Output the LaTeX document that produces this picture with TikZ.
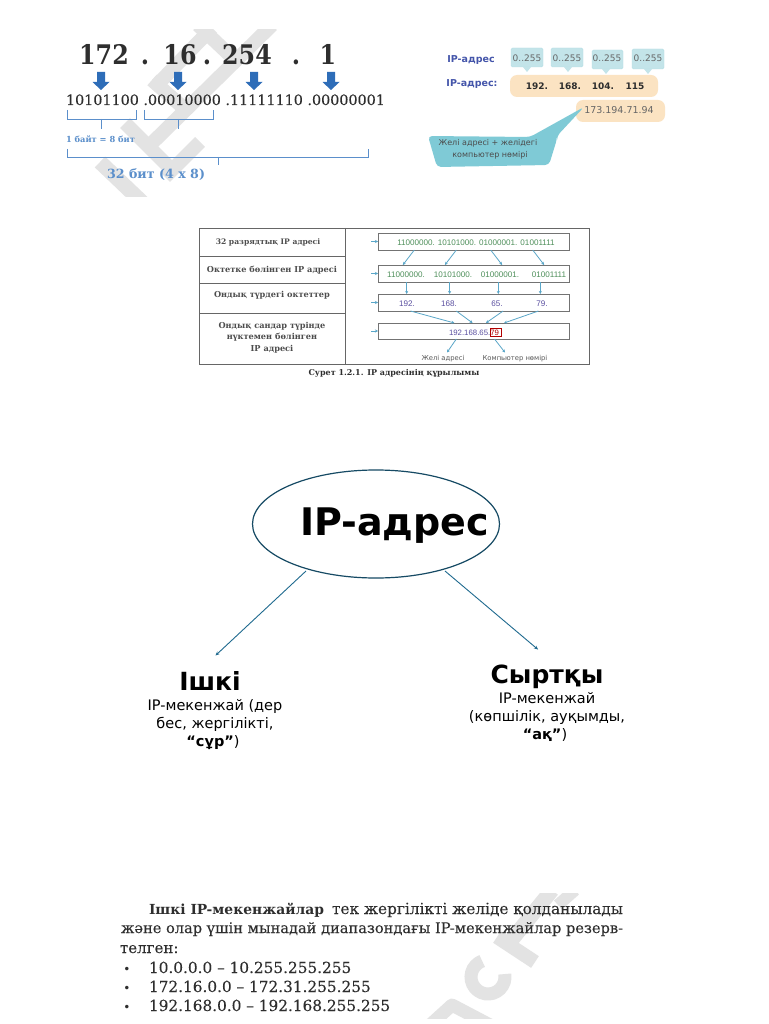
\documentclass[tikz,border=0pt]{standalone}
\usepackage{fontspec}
\usepackage{graphicx}
\usetikzlibrary{shapes.geometric,calc,arrows.meta}
\setmainfont{DejaVu Sans}
\newfontfamily\serifb{DejaVu Serif}
\newfontfamily\serifm[FakeBold=0.08]{DejaVu Serif}
\newfontfamily\libsans{Liberation Sans}
\definecolor{wm}{HTML}{E3E3E3}
\definecolor{bluearrow}{HTML}{2E6DB8}
\definecolor{brk}{HTML}{5B8FCB}
\definecolor{ink}{HTML}{2E2E2E}
\definecolor{tealb}{HTML}{C3E4E9}
\definecolor{teald}{HTML}{7FCAD6}
\definecolor{peach}{HTML}{FBE3C2}
\definecolor{ipblue}{HTML}{4455AA}
\definecolor{edge}{HTML}{1F6A8F}
\definecolor{tarr}{HTML}{5AA6C8}
\definecolor{tgreen}{HTML}{4E8F5A}
\definecolor{tpurp}{HTML}{5A4FA0}
\tikzset{
  txt/.style={inner sep=0pt,outer sep=0pt,anchor=base},
  fit/.style={inner sep=0pt,outer sep=0pt,anchor=base west},
  rowbox/.style={draw=black!55,line width=0.9pt,inner sep=0pt,outer sep=0pt,anchor=north west},
  tarrow/.style={draw=tarr,line width=0.8pt,-{Stealth[length=3pt,width=3pt]}},
  bracket/.style={draw=brk,line width=0.9pt},
  wband/.style={draw=wm,line width=14pt},
  chip/.style={fill=tealb,draw=tealb!80!teald,line width=0.4pt,rounded corners=1.5pt},
  mainedge/.style={draw=edge,line width=0.9pt,-{Stealth[length=4pt,width=3.5pt]}},
  cell/.style={txt,text=ink!85,font=\serifb\bfseries\fontsize{8.2}{10}\selectfont},
  bignum/.style={txt,text=ink},
}
\newcommand{\fpx}[1]{\fontsize{#1}{#1}\selectfont}
\newcommand{\numtxt}[1]{\scalebox{0.88}[1]{\serifb\bfseries\fpx{27}#1}}
\newcommand{\blockarrow}[1]{\fill[bluearrow] (#1-4,72)--(#1+4,72)--(#1+4,82)--(#1+8.5,82)--(#1,90)--(#1-8.5,82)--(#1-4,82)--cycle;}
\newcommand{\chipshape}[5]{\path[chip] (#1,#3) rectangle (#2,#4);\fill[tealb] (#5-4,#4)--(#5+4,#4)--(#5,#4+5)--cycle;}
\begin{document}
\begin{tikzpicture}[x=1pt,y=-1pt]
\useasboundingbox (0,0) rectangle (768,1024);
\fill[white] (0,0) rectangle (768,1024);
% watermark top
\begin{scope}
\clip (90,30) rectangle (300,197);
\draw[wband] (272,25)--(150,145);
\draw[wband] (212,28)--(157,85);
\draw[wband] (198,25)--(235,60);
\draw[wband] (152,80)--(186,110);
\draw[wband] (125,123)--(172,170);
\draw[wband] (200,142)--(165,177);
\draw[wband,line width=15pt] (100,162)--(145,205);
\end{scope}
% watermark bottom
\begin{scope}
\clip (100,893) rectangle (660,1018);
\draw[wband,line width=15pt] (552,890)--(505,948);
\draw[wband,line width=12pt] (575,890)--(558,905);
\draw[wband] (497,937)--(535,962);
\draw[wband,line width=13pt] plot[smooth,domain=110:370,samples=20] ({488+17*cos(\x)},{977-17*sin(\x)});
\draw[wband,line width=13pt,line join=round] (430,1025)--(452,1005)--(490,1025);
\end{scope}
% top left numbers
\node[bignum] (n1) at (104,65) {\numtxt{172}};
\node[bignum] (d1) at (145,65) {\numtxt{.}};
\node[bignum] (n2) at (180,65) {\numtxt{16}};
\node[bignum] (d2) at (207,65) {\numtxt{.}};
\node[bignum] (n3) at (247,65) {\numtxt{254}};
\node[bignum] (d3) at (296,65) {\numtxt{.}};
\node[bignum] (n4) at (328,65) {\numtxt{1}};
\blockarrow{101}\blockarrow{178}\blockarrow{254}\blockarrow{331}
\node[fit,text=ink] (bin) at (66,105) {\resizebox{319pt}{!}{\serifm\fpx{14}10101100 .00010000 .11111110 .00000001}};
\draw[bracket] (67,110)--(67,119)--(136,119)--(136,110) (101.5,119)--(101.5,129);
\draw[bracket] (144,110)--(144,119)--(213,119)--(213,110) (178.5,119)--(178.5,129);
\draw[bracket] (67,149)--(67,157)--(368,157)--(368,149) (218,157)--(218,165);
\node[fit,text=brk] (b1) at (66,142.5) {\resizebox{69pt}{!}{\serifb\bfseries\fpx{8}1 байт = 8 бит}};
\node[fit,text=brk] (b2) at (107,179) {\resizebox{98pt}{!}{\serifb\bfseries\fpx{12}32 бит (4 x 8)}};
% top right
\node[txt,text=ipblue,font=\bfseries\fpx{9.5}] (ip1) at (471,63) {IP-адрес};
\node[txt,text=ipblue,font=\bfseries\fpx{9.5}] (ip2) at (472,87) {IP-адрес:};
\chipshape{511}{543}{48}{67}{527}
\chipshape{551}{583}{48}{67}{568}
\chipshape{592}{623}{50}{69}{606}
\chipshape{632}{664}{49}{69}{648}
\foreach \x/\nm in {527/a,567/b,607/c,648/d}{\node[txt,text=black!60,font=\fpx{9}] (ch\nm) at (\x,62) {0..255};}
\fill[peach,rounded corners=7pt] (510,75) rectangle (658,97);
\fill[peach,rounded corners=7pt] (576,100) rectangle (665,122);
\foreach \x/\t/\nm in {537/192./a,570/168./b,603/104./c,635/115/d}{\node[txt,text=ink,font=\bfseries\fpx{9}] (oc\nm) at (\x,89.5) {\t};}
\node[txt,text=black!60,font=\fpx{9.5}] (big) at (619,114) {173.194.71.94};
\fill[teald,rounded corners=4pt] (428,136)--(530,137)--(584,107)--(557,136)--(557,139)--(549,165)--(437,167)--cycle;
\node[txt,text=black!70,font=\fpx{8}] (c1) at (488,146) {Желі адресі + желідегі};
\node[txt,text=black!70,font=\fpx{8}] (c2) at (490,158) {компьютер нөмірі};
% table
\draw[black!60,line width=0.9pt] (199,228) rectangle (589,364);
\draw[black!60,line width=0.9pt] (345,228)--(345,364) (199,256)--(345,256) (199,283)--(345,283) (199,313)--(345,313);
\node[cell,font=\serifb\bfseries\fpx{7.6}] (t1) at (268,244) {32 разрядтық IP адресі};
\node[cell,font=\serifb\bfseries\fpx{8.2}] (t2) at (272,272) {Октетке бөлінген IP адресі};
\node[cell] (t3) at (272,297) {Ондық түрдегі октеттер};
\node[cell] (t4a) at (272,328) {Ондық сандар түрінде};
\node[cell] (t4b) at (272,339) {нүктемен бөлінген};
\node[cell] (t4c) at (272,351) {IP адресі};
\node[rowbox,minimum width=191pt,minimum height=17pt] (r1) at (378,233) {};
\node[rowbox,minimum width=191pt,minimum height=17pt] (r2) at (378,265) {};
\node[rowbox,minimum width=191pt,minimum height=17pt] (r3) at (378,294) {};
\node[rowbox,minimum width=191pt,minimum height=16pt] (r4) at (378,323) {};
\node[txt,text=tgreen,font=\libsans\fpx{8.1}] (r1t) at (476,245) {11000000. 10101000. 01000001. 01001111};
\foreach \x/\t/\nm in {406/11000000./a,453/10101000./b,500/01000001./c,549/01001111/d}{\node[txt,text=tgreen,font=\libsans\fpx{8.1}] (g\nm) at (\x,277) {\t};}
\foreach \x/\t/\nm in {407/192./a,449/168./b,497/65./c,542/79./d}{\node[txt,text=tpurp,font=\libsans\fpx{8.1}] (p\nm) at (\x,306) {\t};}
\node[txt,text=tpurp,font=\libsans\fpx{7.8}] (addr) at (474,335) {192.168.65.\textcolor{red!70!black}{79}};
\draw[red!70!black,line width=0.5pt] (490,328.5) rectangle (501,336.5);
\node[txt,text=black!65,font=\fpx{6.8}] (ja) at (443,360) {Желі адресі};
\node[txt,text=black!65,font=\fpx{6.8}] (ka) at (515,360) {Компьютер нөмірі};
\node[txt,text=ink,font=\serifb\bfseries\fpx{8}] (cap) at (394,375) {Сурет 1.2.1. IP адресінің құрылымы};
\foreach \r in {r1,r2,r3,r4}{\draw[tarrow] ($(\r.west)+(-7,0)$)--(\r.west);}
\foreach \f/\s in {0.19/0.13,0.41/0.35,0.59/0.65,0.81/0.87}{\draw[tarrow] ($(r1.south west)!\f!(r1.south east)$)--($(r2.north west)!\s!(r2.north east)$);}
\foreach \f in {0.15,0.375,0.63,0.85}{\draw[tarrow] ($(r2.south west)!\f!(r2.south east)$)--($(r3.north west)!\f!(r3.north east)$);}
\foreach \f/\s in {0.17/0.40,0.41/0.495,0.655/0.565,0.84/0.66}{\draw[tarrow] ($(r3.south west)!\f!(r3.south east)$)--($(r4.north west)!\s!(r4.north east)$);}
\coordinate (ja0) at (447,352.5);
\coordinate (ka0) at (505,352.5);
\draw[tarrow] ($(r4.south west)!0.41!(r4.south east)$)--(ja0);
\draw[tarrow] ($(r4.south west)!0.61!(r4.south east)$)--(ka0);
% main diagram
\node[draw=edge!70!black,line width=1.2pt,ellipse,minimum width=247pt,minimum height=108pt,inner sep=0pt] (ip) at (376,524) {};
\node[txt,font=\bfseries\fpx{38}] (iptxt) at (394.5,535) {IP-адрес};
\node[txt,font=\bfseries\fpx{25}] (in) at (210,690) {Ішкі};
\node[txt,font=\fpx{14.5}] (in1) at (215,710) {IP-мекенжай (дер};
\node[txt,font=\fpx{14.5}] (in2) at (215,728) {бес, жергілікті,};
\node[txt,font=\fpx{14.5}] (in3) at (213,746) {\textbf{“сұр”})};
\node[txt,font=\bfseries\fpx{25}] (out) at (547,683) {Сыртқы};
\node[txt,font=\fpx{14.5}] (out1) at (547,703) {IP-мекенжай};
\node[txt,font=\fpx{14.5}] (out2) at (547,721) {(көпшілік, ауқымды,};
\node[txt,font=\fpx{14.5}] (out3) at (545,739) {\textbf{“ақ”})};
\coordinate (inTip) at (215.5,655.5);
\coordinate (outTip) at (538,649.5);
\draw[mainedge] ($(ip.center)+(-70,47)$)--(inTip);
\draw[mainedge] ($(ip.center)+(69,47)$)--(outTip);
% bottom text
\node[fit,text=ink] (l1a) at (149,914) {\resizebox{175pt}{!}{\serifb\bfseries\fpx{14}Ішкі IP-мекенжайлар}};
\node[fit,text=ink] (l1b) at (332,914) {\resizebox{291pt}{!}{\serifm\fpx{14}тек жергілікті желіде қолданылады}};
\node[fit,text=ink] (l2) at (121,933) {\resizebox{502pt}{!}{\serifm\fpx{14}және олар үшін мынадай диапазондағы IP-мекенжайлар резерв-}};
\node[fit,text=ink,font=\serifm\fpx{15}] (l3) at (120,953) {телген:};
\foreach \y/\t/\nm in {973/10.0.0.0 – 10.255.255.255/a,992/172.16.0.0 – 172.31.255.255/b,1011/192.168.0.0 – 192.168.255.255/c}{
  \node[fit,text=ink,font=\serifm\fpx{15.3}] (it\nm) at (149,\y) {\t};
  \node[txt,text=ink,font=\serifb\fpx{12}] (bu\nm) at (127,\y) {•};
}
\end{tikzpicture}
\end{document}
